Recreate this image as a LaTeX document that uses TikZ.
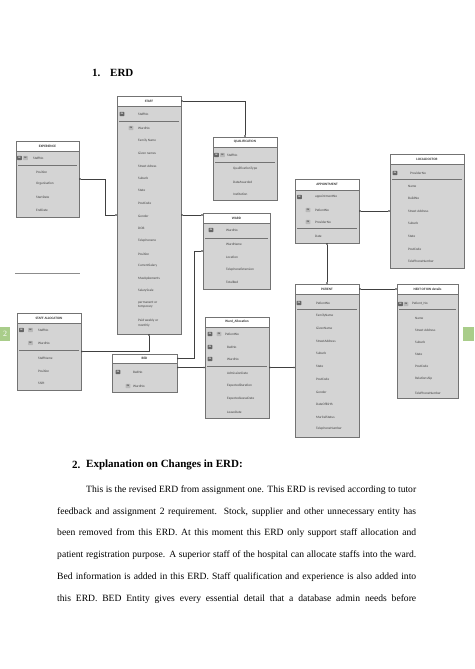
\documentclass[tikz,border=0pt]{standalone}
\usepackage{fontspec}
\setmainfont{Liberation Serif}
\newfontfamily\erdfont{Carlito}
\usetikzlibrary{arrows.meta,fit}
\definecolor{pggreen}{HTML}{A9CD8A}
\tikzset{
  entbox/.style={draw=black!55, fill=black!17, inner sep=0pt, line width=0.5pt},
  hdrbox/.style={draw=black!55, fill=white, inner sep=0pt, line width=0.5pt},
  hdrtext/.style={font=\erdfont\fontsize{3.4}{4}\selectfont\bfseries, text=black!80, inner sep=0pt},
  attr/.style={anchor=west, font=\erdfont\fontsize{3.4}{4.2}\selectfont, text=black!75, inner sep=0pt, align=left},
  pkicon/.style={fill=black!60, text=white, font=\erdfont\fontsize{2.2}{2.5}\selectfont\bfseries, minimum width=4.6pt, minimum height=4.2pt, inner sep=0pt, rounded corners=0.5pt},
  fkicon/.style={fill=black!28, text=black!85, font=\erdfont\fontsize{2.2}{2.5}\selectfont\bfseries, minimum width=4.6pt, minimum height=4.2pt, inner sep=0pt, rounded corners=0.5pt},
  sepline/.style={draw=black!55, line width=0.8pt},
  rel/.style={draw=black!75, line width=0.45pt, {Circle[length=1.6pt]}-{Circle[length=1.6pt]}},
  bodytext/.style={anchor=west, inner sep=0pt, font=\fontsize{9.6}{11}\selectfont},
  headtext/.style={anchor=west, inner sep=0pt, font=\fontsize{11}{13}\selectfont\bfseries},
}
% name, x1, x2, top, header bottom, bottom, title
\newcommand\ent[7]{%
  \node[entbox, fit={(#2,#4) (#3,#6)}] (#1) {};
  \node[hdrbox, fit={(#2,#4) (#3,#5)}] (#1h) {};
  \node[hdrtext] (#1t) at (#1h.center) {#7};
}
\newcommand\sepl[3]{\draw[sepline] ({#1+2},#3) -- ({#2-2},#3);}
\newcommand\attrs[3]{\foreach \yy/\txt [count=\k] in {#3} {\node[attr] (#1-a\k) at (#2,\yy) {\txt};}}
\newcommand\pkb[3]{\node[pkicon] (#1) at (#2,#3) {PK};}
\newcommand\fkb[3]{\node[fkicon] (#1) at (#2,#3) {FK};}
\begin{document}
\begin{tikzpicture}[x=1pt,y=-1pt]
\fill[white] (0,0) rectangle (474,669);
\useasboundingbox (0,0) rectangle (474,669);

% headings
\node[headtext] (h1n) at (92,73) {1.};
\node[headtext] (h1) at (110,73) {ERD};

% page number tabs
\node[fill=pggreen, minimum width=10pt, minimum height=14pt, inner sep=0pt, anchor=north west, text=white, font=\fontsize{8}{9}\selectfont] (pgl) at (0,327) {2};
\node[fill=pggreen, minimum width=11pt, minimum height=14pt, inner sep=0pt, anchor=north east] (pgr) at (474,327) {};

% stray rule
\draw[black!45, line width=0.5pt] (15,273) -- (80,273);

% STAFF
\ent{staff}{117}{181}{96}{106}{334}{STAFF}
\sepl{117}{181}{121}
\pkb{staff-pk}{122}{114}
\fkb{staff-fk}{131}{128}
\attrs{staff}{138}{114/StaffNo,128/WardNo,141/Family Name,153/Given names,166/Street Adress,178/Suburb,190/State,203/PostCode,216/Gender,228/DOB,241/Telephoneno,254/Position,266/CurrentSalary,279/MaxUpkements,291/SalaryScale,305/{permanent or\\temporary},323/{Paid weekly or\\monthly}}

% EXPERIENCE
\ent{exp}{16}{79}{141}{151}{217}{EXPERIENCE}
\sepl{16}{79}{165}
\pkb{exp-pk}{19.5}{158}
\fkb{exp-fk}{25.5}{158}
\attrs{exp}{33}{158/StaffNo}
\attrs{expb}{36}{172/Position,184/Organisation,197/StartDate,210/EndDate}

% QUALIFICATION
\ent{qual}{213}{277}{137}{147}{200}{QUALIFICATION}
\sepl{213}{277}{162}
\pkb{qual-pk}{216.5}{155}
\fkb{qual-fk}{222.5}{155}
\attrs{qual}{227}{155/StaffNo}
\attrs{qualb}{233}{169/QualificationType,182/DateAwarded,194/Institution}

% APPOINTMENT
\ent{appt}{295}{359}{179}{190}{243}{APPOINTMENT}
\sepl{295}{359}{228}
\pkb{appt-pk}{299.5}{197}
\fkb{appt-fk1}{308}{210}
\fkb{appt-fk2}{308}{222}
\attrs{appt}{315}{197/appointmentNo,210/PatientNo,222/ProviderNo,236/Date}

% LOCAL DOCTOR
\ent{doc}{390}{464}{154}{164}{268}{LOCALDOCTOR}
\sepl{390}{464}{179}
\pkb{doc-pk}{395}{173}
\attrs{doc}{410}{173/ProviderNo}
\attrs{docb}{408}{186/Name,198/BuildNo,211/Street Address,223/Suburb,236/State,249/PostCode,261/TelePhoneNumber}

% WARD
\ent{ward}{203}{270}{213}{223}{289}{WARD}
\sepl{203}{270}{238}
\pkb{ward-pk}{211}{230}
\attrs{ward}{226}{230/WardNo,244/WardName,257/Location,270/TelephoneExtension,282/TotalBed}

% STAFF ALLOCATION
\ent{salloc}{17}{81}{313}{323}{390}{STAFF ALLOCATION}
\sepl{17}{81}{350}
\pkb{salloc-pk}{21.5}{330}
\fkb{salloc-fk1}{30.5}{330}
\fkb{salloc-fk2}{30.5}{343}
\attrs{salloc}{38}{330/StaffNo,343/WardNo,358/StaffName,371/Position,383/Shift}

% BED
\ent{bed}{112}{177}{354}{363}{392}{BED}
\pkb{bed-pk}{118}{372}
\fkb{bed-fk}{128}{386}
\attrs{bed}{133}{372/BedNo,386/WardNo}

% WARD ALLOCATION
\ent{wa}{205}{269}{317}{327}{418}{Ward\_Allocation}
\sepl{205}{269}{366}
\pkb{wa-pk1}{210}{334}
\fkb{wa-fk1}{219}{334}
\pkb{wa-pk2}{210}{347}
\pkb{wa-pk3}{210}{359}
\attrs{wa}{225}{334/PatientNo}
\attrs{wab}{227}{347/BedNo,359/WardNo,373/AdmissionDate,386/ExpectedDuration,399/ExpectedLeaveDate,412/LeaveDate}

% PATIENT
\ent{pat}{295}{359}{284}{294}{437}{PATIENT}
\sepl{295}{359}{309}
\pkb{pat-pk}{299}{303}
\attrs{pat}{316}{303/PatientNo,316/FamilyName,328/GivenName,341/StreetAddress,353/Suburb,366/State,379/PostCode,392/Gender,404/DateOfBirth,417/MaritalStatus,429/TelephoneNumber}

% NEXT OF KIN
\ent{nok}{397}{458}{284}{294}{398}{NEXT OF KIN details}
\sepl{397}{458}{309}
\pkb{nok-pk}{400.5}{304}
\fkb{nok-fk}{406}{304}
\attrs{nok}{412}{304/Patient\_No}
\attrs{nokb}{415}{318/Name,330/Street Address,342/Suburb,354/State,366/PostCode,379/Relationship,393/TelePhoneNumber}

% relationships
\draw[rel] (staffh.east) -| (qualh.north);
\draw[rel] (exp.east) -- ++(26,0) |- (staff.west);
\draw[rel] (staff.east) -- (ward.west |- staff.east);
\draw[rel] (ward.west) -- ++(-9,0) |- (bedh.east);
\draw[rel] (wa.west) -- (bed.east |- wa.west);
\draw[rel] (wa.east) -- (pat.west |- wa.east);
\draw[rel] (appt.south) -- (path.north);
\draw[rel] (appt.east) -- (doc.west);
\draw[rel] (path.east) -- (nokh.west |- path.east);
\draw[rel] (salloc.east) -| (staff.south);

% section 2
\node[headtext] (h2n) at (72,465) {2.};
\node[headtext] (h2) at (86,465) {Explanation on Changes in ERD:};
\node[bodytext] (p1) at (86,490) {\makebox[330pt][s]{This is the revised ERD from assignment one. This ERD is revised according to tutor}};
\node[bodytext] (p2) at (57,512) {\makebox[359pt][s]{feedback and assignment 2 requirement. Stock, supplier and other unnecessary entity has}};
\node[bodytext] (p3) at (57,533.5) {\makebox[359pt][s]{been removed from this ERD. At this moment this ERD only support staff allocation and}};
\node[bodytext] (p4) at (57,555.5) {\makebox[359pt][s]{patient registration purpose. A superior staff of the hospital can allocate staffs into the ward.}};
\node[bodytext] (p5) at (57,577) {\makebox[359pt][s]{Bed information is added in this ERD. Staff qualification and experience is also added into}};
\node[bodytext] (p6) at (57,599) {\makebox[359pt][s]{this ERD. BED Entity gives every essential detail that a database admin needs before}};
\end{tikzpicture}
\end{document}
